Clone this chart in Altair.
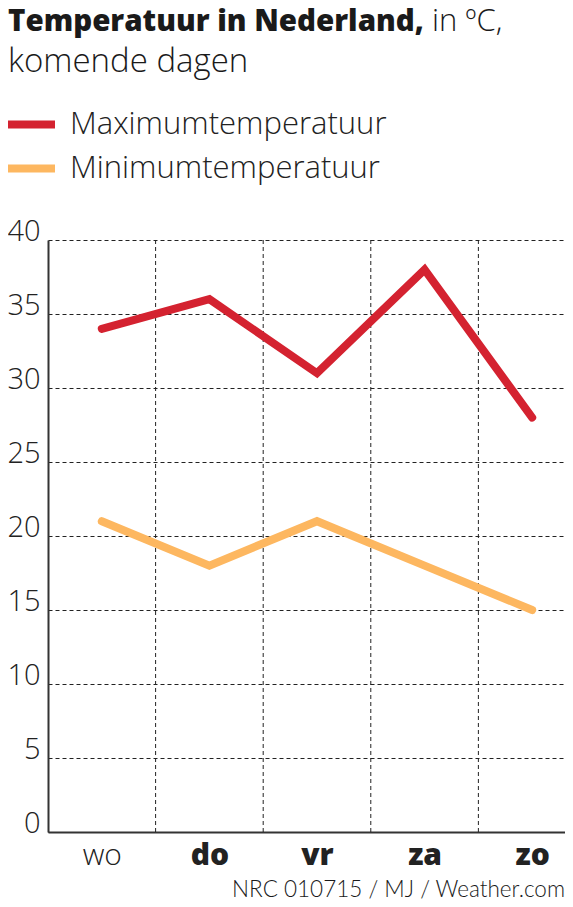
import altair as alt
import pandas as pd

days = ["wo", "do", "vr", "za", "zo"]
max_temp = [34, 36, 31, 38, 28]
min_temp = [21, 18, 21, 18, 15]
series_names = ["Maximumtemperatuur", "Minimumtemperatuur"]
series_colors = ["#D42230", "#FDB760"]
y_ticks = [0, 5, 10, 15, 20, 25, 30, 35, 40]
day_bounds = [0.5, 1.5, 2.5, 3.5]

FONT = "Open Sans"

rows = []
for i, d in enumerate(days):
    rows.append({"idx": i, "day": d, "serie": series_names[0], "temp": max_temp[i]})
    rows.append({"idx": i, "day": d, "serie": series_names[1], "temp": min_temp[i]})
df = pd.DataFrame(rows)

x_scale = alt.Scale(domain=[-0.5, 4.305], nice=False, zero=False)
y_scale = alt.Scale(domain=[0, 40], nice=False)

label_expr = "[" + ",".join("'%s'" % d for d in days) + "][datum.value]"

lines = alt.Chart(df).mark_line(strokeWidth=8, strokeCap="round", strokeJoin="miter").encode(
    x=alt.X("idx:Q", scale=x_scale,
            axis=alt.Axis(values=list(range(len(days))), labelExpr=label_expr, title=None,
                          grid=False, ticks=False, domain=True, domainColor="#333333",
                          domainWidth=2, labelFontSize=30, labelFont=FONT, labelColor="#222222",
                          labelPadding=8,
                          labelFontWeight={"condition": {"test": "datum.value == 0", "value": 300},
                                           "value": 800})),
    y=alt.Y("temp:Q", scale=y_scale,
            axis=alt.Axis(values=y_ticks, title=None, grid=True, gridDash=[4, 3], gridColor="#222222",
                          gridWidth=1, ticks=False, domain=True, domainColor="#333333", domainWidth=2,
                          labelFontSize=29, labelFont=FONT, labelFontWeight=300, labelColor="#222222",
                          labelBaseline="alphabetic", labelPadding=8, labelAlign="right")),
    color=alt.Color("serie:N", scale=alt.Scale(domain=series_names, range=series_colors),
                    legend=alt.Legend(orient="none", legendX=-44, legendY=-143, title=None, padding=0,
                                      symbolType="stroke", symbolSize=2209, symbolStrokeWidth=8,
                                      labelFontSize=31, labelFont=FONT, labelFontWeight=300,
                                      labelColor="#222222", labelOffset=11, rowPadding=-4,
                                      labelLimit=500)),
    detail="serie:N",
)

bounds_df = pd.DataFrame({"b": day_bounds})
vgrid = alt.Chart(bounds_df).mark_rule(strokeDash=[4, 3], color="#222222", strokeWidth=1).encode(
    x=alt.X("b:Q", scale=x_scale),
)

title_df = pd.DataFrame({"t": ["Temperatuur in Nederland,"]})
title_bold = alt.Chart(title_df).mark_text(
    align="left", baseline="alphabetic", fontSize=29.5, fontWeight=800, font=FONT, color="#1a1a1a"
).encode(x=alt.value(-40), y=alt.value(-209), text="t:N")

title2_df = pd.DataFrame({"t": ["in ºC,"]})
title_reg = alt.Chart(title2_df).mark_text(
    align="left", baseline="alphabetic", fontSize=31, fontWeight=300, font=FONT, color="#1a1a1a"
).encode(x=alt.value(384), y=alt.value(-209), text="t:N")

title3_df = pd.DataFrame({"t": ["komende dagen"]})
title_line2 = alt.Chart(title3_df).mark_text(
    align="left", baseline="alphabetic", fontSize=33, fontWeight=300, font=FONT, color="#1a1a1a"
).encode(x=alt.value(-40), y=alt.value(-168), text="t:N")

src_df = pd.DataFrame({"t": ["NRC 010715 / MJ / Weather.com"]})
source = alt.Chart(src_df).mark_text(
    align="right", baseline="alphabetic", fontSize=22.5, fontWeight=300, font="Lato", color="#1a1a1a"
).encode(x=alt.value(517), y=alt.value(657), text="t:N")

chart = alt.layer(vgrid, lines, title_bold, title_reg, title_line2, source).properties(
    width=517, height=592,
    autosize=alt.AutoSizeParams(type="none"),
    padding={"left": 40, "top": 232, "right": 0, "bottom": 67},
).configure_view(stroke=None)

chart.save("out.html", embed_options={"renderer": "svg", "actions": False})
